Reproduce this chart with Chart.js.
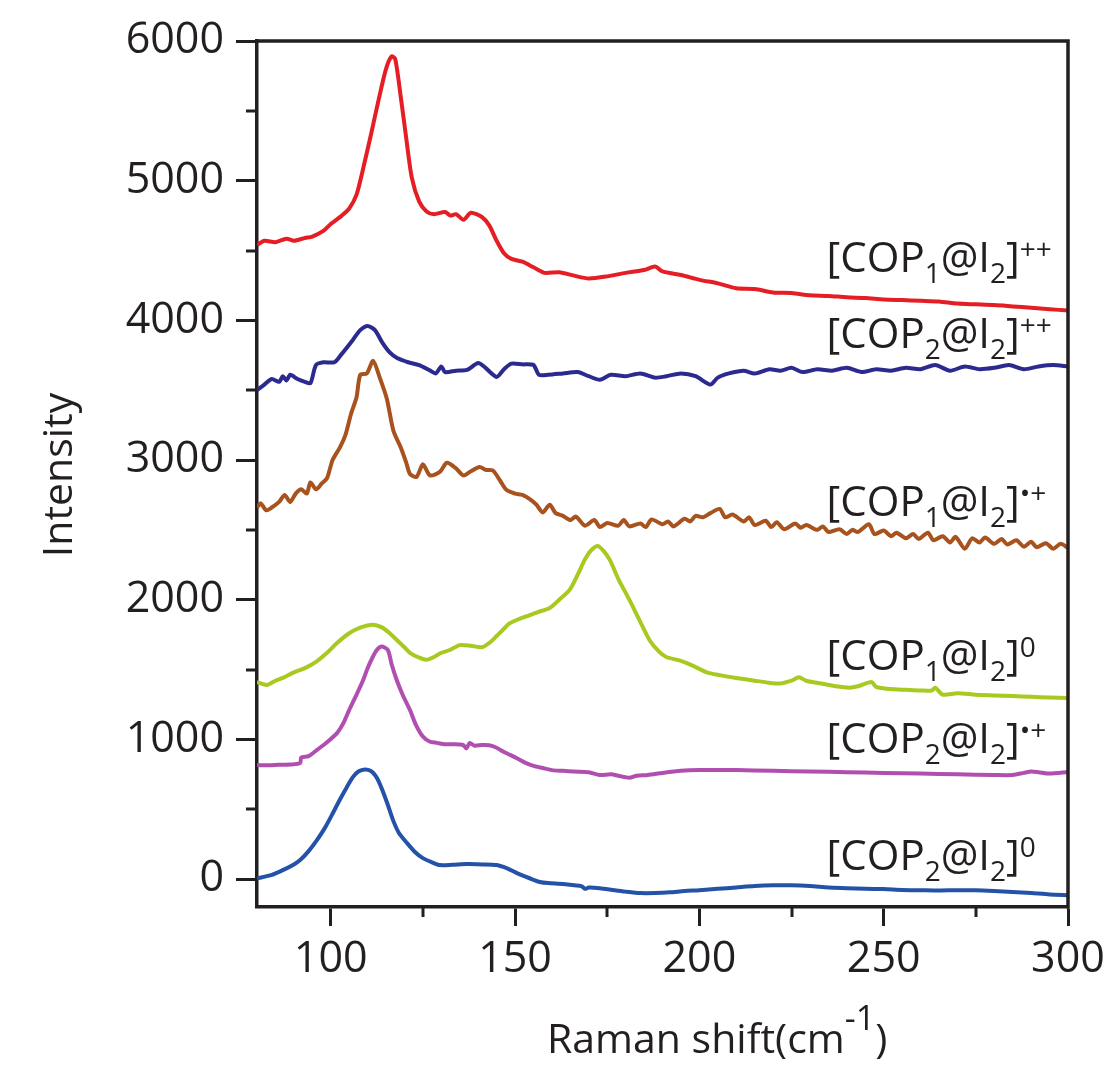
<!DOCTYPE html>
<html>
<head>
<meta charset="utf-8">
<script src="https://cdn.jsdelivr.net/npm/chart.js@4/dist/chart.umd.min.js"></script>
<style>
  html, body { margin: 0; padding: 0; background: #fff; }
  #wrap { width: 1110px; height: 1086px; }
</style>
</head>
<body>
<div id="wrap"><canvas id="raman" width="1110" height="1086"></canvas></div>
<script>
// --- Data ---
const xTicks = [100, 150, 200, 250, 300];
const yTicks = [0, 1000, 2000, 3000, 4000, 5000, 6000];

// [COP1@I2]++  (red)
const cop1ppX = [80, 82, 85, 88, 90, 93, 95, 98, 100, 103, 105, 107, 109, 111, 113, 115, 116.5, 117.5, 119, 120.5, 122, 124, 126, 128, 131, 132.5, 134, 136, 138, 141, 143, 145, 147, 149, 152, 155, 158, 162, 166, 170, 175, 180, 185, 188, 190, 195, 200, 205, 210, 215, 220, 225, 230, 235, 240, 245, 250, 255, 260, 265, 270, 275, 280, 285, 290, 295, 300];
const cop1ppY = [4540, 4570, 4560, 4585, 4570, 4590, 4600, 4640, 4690, 4750, 4800, 4900, 5110, 5340, 5580, 5800, 5890, 5870, 5600, 5300, 5020, 4850, 4780, 4760, 4775, 4750, 4760, 4720, 4770, 4740, 4680, 4570, 4480, 4440, 4420, 4380, 4340, 4345, 4320, 4300, 4315, 4340, 4360, 4385, 4350, 4325, 4290, 4265, 4230, 4225, 4200, 4195, 4180, 4175, 4165, 4160, 4150, 4145, 4140, 4135, 4120, 4115, 4110, 4100, 4090, 4080, 4070];

// [COP2@I2]++  (navy)
const cop2ppX = [80, 82, 84, 86, 87, 88, 89, 91, 93, 94.5, 96, 98, 101, 103, 106, 108, 110, 112, 114, 116, 118, 121, 124, 127, 128.5, 130, 131, 134, 137, 140, 142, 145, 147, 149, 152, 155, 156.5, 159, 163, 167, 170, 173, 176, 180, 184, 188, 191, 195, 199, 203, 205, 208, 212, 215, 219, 222, 225, 228, 232, 236, 240, 244, 248, 252, 256, 260, 264, 268, 272, 276, 280, 284, 288, 292, 296, 300];
const cop2ppY = [3500, 3540, 3580, 3560, 3600, 3570, 3610, 3580, 3560, 3550, 3680, 3700, 3700, 3760, 3860, 3930, 3960, 3930, 3840, 3770, 3730, 3700, 3680, 3640, 3620, 3670, 3630, 3640, 3645, 3695, 3660, 3595, 3650, 3690, 3685, 3680, 3610, 3610, 3620, 3630, 3600, 3575, 3610, 3600, 3620, 3590, 3600, 3620, 3600, 3540, 3590, 3620, 3640, 3620, 3650, 3640, 3660, 3630, 3650, 3640, 3660, 3630, 3650, 3640, 3660, 3650, 3680, 3640, 3670, 3650, 3660, 3680, 3650, 3670, 3680, 3670];

// [COP1@I2]•+  (brown)
const cop1rpX = [80, 81, 82.5, 84, 86, 87.5, 89, 90.5, 92, 93.5, 94.5, 96, 97.5, 99, 100.5, 102.5, 104, 105.5, 107, 108, 109.8, 111.5, 113.3, 115.2, 117, 119, 120.5, 121.5, 123.3, 125, 126.9, 129.6, 131.5, 134, 136, 138, 140.4, 142, 144, 146, 147.7, 150, 152, 154, 155.8, 157.5, 159.4, 161, 163, 165, 166.5, 169, 171.5, 173, 175, 178, 179.5, 181, 184, 185.5, 187, 190, 191.5, 193, 196, 197.5, 199, 201, 203, 205.5, 207, 209, 212, 213.5, 215, 218, 219.5, 221, 223, 226, 227.5, 229, 232, 233.5, 235, 238, 240, 241.5, 243, 246, 247.5, 250, 252, 253.5, 256, 258, 259.5, 262, 263.5, 266, 268, 269.5, 272, 274, 276, 277.5, 280, 282, 283.5, 286, 288, 290, 291.5, 294, 296, 298, 300];
const cop1rpY = [2660, 2690, 2640, 2660, 2700, 2750, 2700, 2760, 2790, 2760, 2840, 2790, 2830, 2870, 3000, 3090, 3180, 3330, 3450, 3610, 3620, 3710, 3590, 3440, 3210, 3090, 2980, 2900, 2880, 2970, 2890, 2915, 2980, 2940, 2890, 2920, 2950, 2930, 2925, 2850, 2785, 2760, 2750, 2720, 2680, 2625, 2680, 2620, 2600, 2570, 2595, 2530, 2570, 2520, 2550, 2530, 2570, 2525, 2545, 2520, 2575, 2540, 2560, 2525, 2580, 2560, 2600, 2590, 2620, 2650, 2590, 2610, 2560, 2590, 2535, 2565, 2520, 2555, 2505, 2545, 2515, 2535, 2500, 2525, 2485, 2505, 2470, 2500, 2485, 2540, 2470, 2495, 2455, 2480, 2440, 2470, 2435, 2480, 2425, 2455, 2410, 2450, 2365, 2440, 2410, 2445, 2400, 2435, 2395, 2425, 2380, 2415, 2375, 2405, 2365, 2400, 2370];

// [COP1@I2]0  (yellow-green)
const cop1nX = [80, 82.7, 85, 87, 90, 93, 96, 99, 101.7, 105, 108, 111.4, 114, 116, 118, 120, 121.5, 124, 126, 128, 130, 132.3, 135, 138, 141, 143, 145, 146.7, 148.5, 150.5, 153, 156, 159.4, 162, 164.8, 167, 168.9, 170.5, 172.4, 174, 175.7, 178, 181, 184, 186.5, 189, 191, 194.6, 198, 202, 205.5, 210, 215, 219, 222, 225, 227, 229, 233, 237, 240.7, 243, 246.7, 248, 252, 256, 260, 263, 264, 266, 270, 275, 280, 285, 290, 295, 300];
const cop1nY = [1410, 1390, 1420, 1440, 1480, 1510, 1555, 1620, 1690, 1760, 1800, 1820, 1800, 1760, 1710, 1660, 1620, 1585, 1570, 1590, 1620, 1640, 1675, 1670, 1660, 1690, 1740, 1785, 1830, 1855, 1880, 1910, 1940, 2000, 2070, 2180, 2285, 2350, 2385, 2350, 2285, 2150, 2000, 1840, 1710, 1630, 1590, 1565, 1530, 1480, 1460, 1440, 1420, 1405, 1400, 1420, 1445, 1420, 1400, 1380, 1370, 1380, 1410, 1375, 1360, 1355, 1350, 1350, 1370, 1320, 1330, 1320, 1315, 1310, 1305, 1300, 1296];

// [COP2@I2]•+  (purple)
const cop2rpX = [80, 83, 86, 89, 91.7, 92, 94, 96.3, 99, 101.7, 103.5, 105, 107, 108.8, 110, 111.4, 112.5, 113.8, 115.5, 116.5, 117.9, 119.5, 121.5, 123, 125, 126.8, 128.8, 131, 133, 135.9, 136.8, 137.7, 139, 141, 143, 145, 147, 150.5, 153, 155, 157.5, 160, 163, 166, 170, 173, 176, 178, 181, 183, 186, 190, 195, 200, 210, 220, 230, 240, 250, 260, 270, 280, 285, 288, 290, 292, 295, 300];
const cop2rpY = [816, 815, 818, 820, 830, 870, 880, 925, 980, 1045, 1120, 1210, 1320, 1425, 1510, 1590, 1640, 1665, 1640, 1540, 1425, 1320, 1210, 1110, 1020, 985, 975, 965, 965, 960, 935, 975, 955, 960, 958, 940, 910, 865, 830, 810, 795, 780, 775, 770, 765, 745, 750, 740, 725, 740, 745, 760, 775, 780, 780, 775, 770, 765, 760, 755, 750, 745, 745, 760, 770, 765, 755, 766];

// [COP2@I2]0  (blue)
const cop2nX = [80, 84, 87, 90, 91.7, 94, 96.3, 98.5, 100.6, 102.5, 104.4, 106, 107.5, 109.3, 110.8, 112, 113, 114, 115.5, 116.9, 118.5, 120.7, 123, 125, 127.5, 129.6, 133, 136.9, 141, 145, 148, 150.5, 153, 155, 156.7, 159, 163, 166, 168, 169, 170, 173, 177, 180, 184, 188, 192, 196, 200, 205, 210, 215, 220, 225, 230, 235, 240, 245, 250, 255, 260, 265, 270, 275, 280, 285, 290, 295, 300];
const cop2nY = [5, 30, 64, 105, 136, 200, 280, 370, 473, 570, 660, 730, 770, 785, 775, 745, 700, 637, 530, 422, 330, 258, 190, 150, 120, 100, 102, 107, 105, 100, 75, 43, 15, -5, -21, -29, -35, -45, -50, -70, -60, -65, -80, -90, -100, -100, -95, -85, -80, -70, -60, -50, -45, -45, -50, -60, -65, -70, -72, -78, -80, -82, -80, -80, -85, -92, -100, -110, -115];

const seriesX = [cop1ppX, cop2ppX, cop1rpX, cop1nX, cop2rpX, cop2nX];
const seriesY = [cop1ppY, cop2ppY, cop1rpY, cop1nY, cop2rpY, cop2nY];
const seriesColors = ["#e51d24", "#2c2a8e", "#a8521d", "#a7c920", "#b04fb0", "#2352a8"];

// label text pieces: [text, kind] with kind n / sub / sup
const seriesLabels = [
    [["[COP", "n"], ["1", "sub"], ["@I", "n"], ["2", "sub"], ["]", "n"], ["++", "sup"]],
    [["[COP", "n"], ["2", "sub"], ["@I", "n"], ["2", "sub"], ["]", "n"], ["++", "sup"]],
    [["[COP", "n"], ["1", "sub"], ["@I", "n"], ["2", "sub"], ["]", "n"], ["\u2022+", "sup"]],
    [["[COP", "n"], ["1", "sub"], ["@I", "n"], ["2", "sub"], ["]", "n"], ["0", "sup"]],
    [["[COP", "n"], ["2", "sub"], ["@I", "n"], ["2", "sub"], ["]", "n"], ["\u2022+", "sup"]],
    [["[COP", "n"], ["2", "sub"], ["@I", "n"], ["2", "sub"], ["]", "n"], ["0", "sup"]]
];
// where each label sits (x value of left edge, intensity of baseline)
const labelAnchorX = 234.5;
const labelAnchorY = [4346, 3802, 2599, 1496, 902, 64];

// --- Styling ---
const FONT = "'Open Sans', 'DejaVu Sans', sans-serif";
const INK = "#231f20";

function drawRich(ctx, x, y, parts, size, smallSize) {
    ctx.textAlign = "left";
    ctx.textBaseline = "alphabetic";
    parts.forEach(([txt, kind]) => {
        let dy = 0;
        if (kind === "n") {
            ctx.font = `${size}px ${FONT}`;
        } else {
            ctx.font = `${smallSize}px ${FONT}`;
            dy = kind === "sub" ? size * 0.27 : -size * 0.31;
        }
        ctx.fillText(txt, x, y + dy);
        x += ctx.measureText(txt).width;
    });
}

// frame, minor ticks and text labels
const decorPlugin = {
    id: "decor",
    afterDraw(chart) {
        const { ctx, chartArea: a, scales } = chart;
        const xs = scales.x, ys = scales.y;
        ctx.save();
        ctx.strokeStyle = INK;
        ctx.lineWidth = 3.5;
        // top + right of the box
        ctx.beginPath();
        ctx.moveTo(a.left - 1.5, a.top);
        ctx.lineTo(a.right, a.top);
        ctx.lineTo(a.right, a.bottom + 1.5);
        ctx.stroke();

        // minor ticks
        ctx.lineWidth = 3;
        ctx.beginPath();
        for (let v = 500; v < 6000; v += 1000) {
            const py = Math.round(ys.getPixelForValue(v));
            ctx.moveTo(a.left, py);
            ctx.lineTo(a.left - 11, py);
        }
        for (let v = 125; v < 300; v += 50) {
            const px = Math.round(xs.getPixelForValue(v));
            ctx.moveTo(px, a.bottom);
            ctx.lineTo(px, a.bottom + 10);
        }
        ctx.stroke();

        // series labels
        ctx.fillStyle = INK;
        seriesLabels.forEach((parts, i) => {
            drawRich(ctx, xs.getPixelForValue(labelAnchorX), ys.getPixelForValue(labelAnchorY[i]), parts, 42, 28);
        });

        // axis titles
        ctx.font = `41px ${FONT}`;
        ctx.textAlign = "left";
        ctx.textBaseline = "alphabetic";
        const t1 = "Raman shift(cm";
        let tx = 547;
        ctx.fillText(t1, tx, 1053);
        tx += ctx.measureText(t1).width;
        ctx.font = `34px ${FONT}`;
        ctx.fillText("-1", tx, 1030);
        tx += ctx.measureText("-1").width;
        ctx.font = `41px ${FONT}`;
        ctx.fillText(")", tx, 1053);

        ctx.translate(72, 475);
        ctx.rotate(-Math.PI / 2);
        ctx.textAlign = "center";
        ctx.fillText("Intensity", 0, 0);
        ctx.restore();
    }
};

// --- Chart.js Setup ---
const datasets = seriesX.map((xArr, i) => ({
    data: xArr.map((x, j) => ({ x: x, y: seriesY[i][j] })),
    borderColor: seriesColors[i],
    borderWidth: 4,
    pointRadius: 0,
    tension: 0.25,
    fill: false
}));

const ctx = document.getElementById("raman").getContext("2d");
const ramanChart = new Chart(ctx, {
    type: "line",
    data: { datasets: datasets },
    options: {
        responsive: false,
        animation: false,
        layout: { padding: { left: 0, top: 41, right: 42, bottom: 0 } },
        plugins: {
            legend: { display: false },
            tooltip: { enabled: false }
        },
        scales: {
            x: {
                type: "linear",
                min: 80,
                max: 300,
                afterBuildTicks: (scale) => { scale.ticks = xTicks.map(v => ({ value: v })); },
                afterFit: (scale) => {
                    scale.height = 179;
                    scale.paddingLeft = 0;
                    scale.paddingRight = 0;
                },
                grid: { drawOnChartArea: false, tickLength: 19, tickWidth: 3, tickColor: INK },
                border: { color: INK, width: 3.5 },
                ticks: { color: INK, font: { family: FONT, size: 43 }, padding: 8, maxRotation: 0, callback: v => String(v) }
            },
            y: {
                min: -200,
                max: 6000,
                afterBuildTicks: (scale) => { scale.ticks = yTicks.map(v => ({ value: v })); },
                afterFit: (scale) => {
                    scale.width = 257;
                    scale.paddingTop = 0;
                    scale.paddingBottom = 0;
                },
                grid: { drawOnChartArea: false, tickLength: 21, tickWidth: 3, tickColor: INK },
                border: { color: INK, width: 3.5 },
                ticks: { color: INK, font: { family: FONT, size: 43 }, padding: 12, callback: v => String(v) }
            }
        }
    },
    plugins: [decorPlugin]
});
</script>
</body>
</html>
